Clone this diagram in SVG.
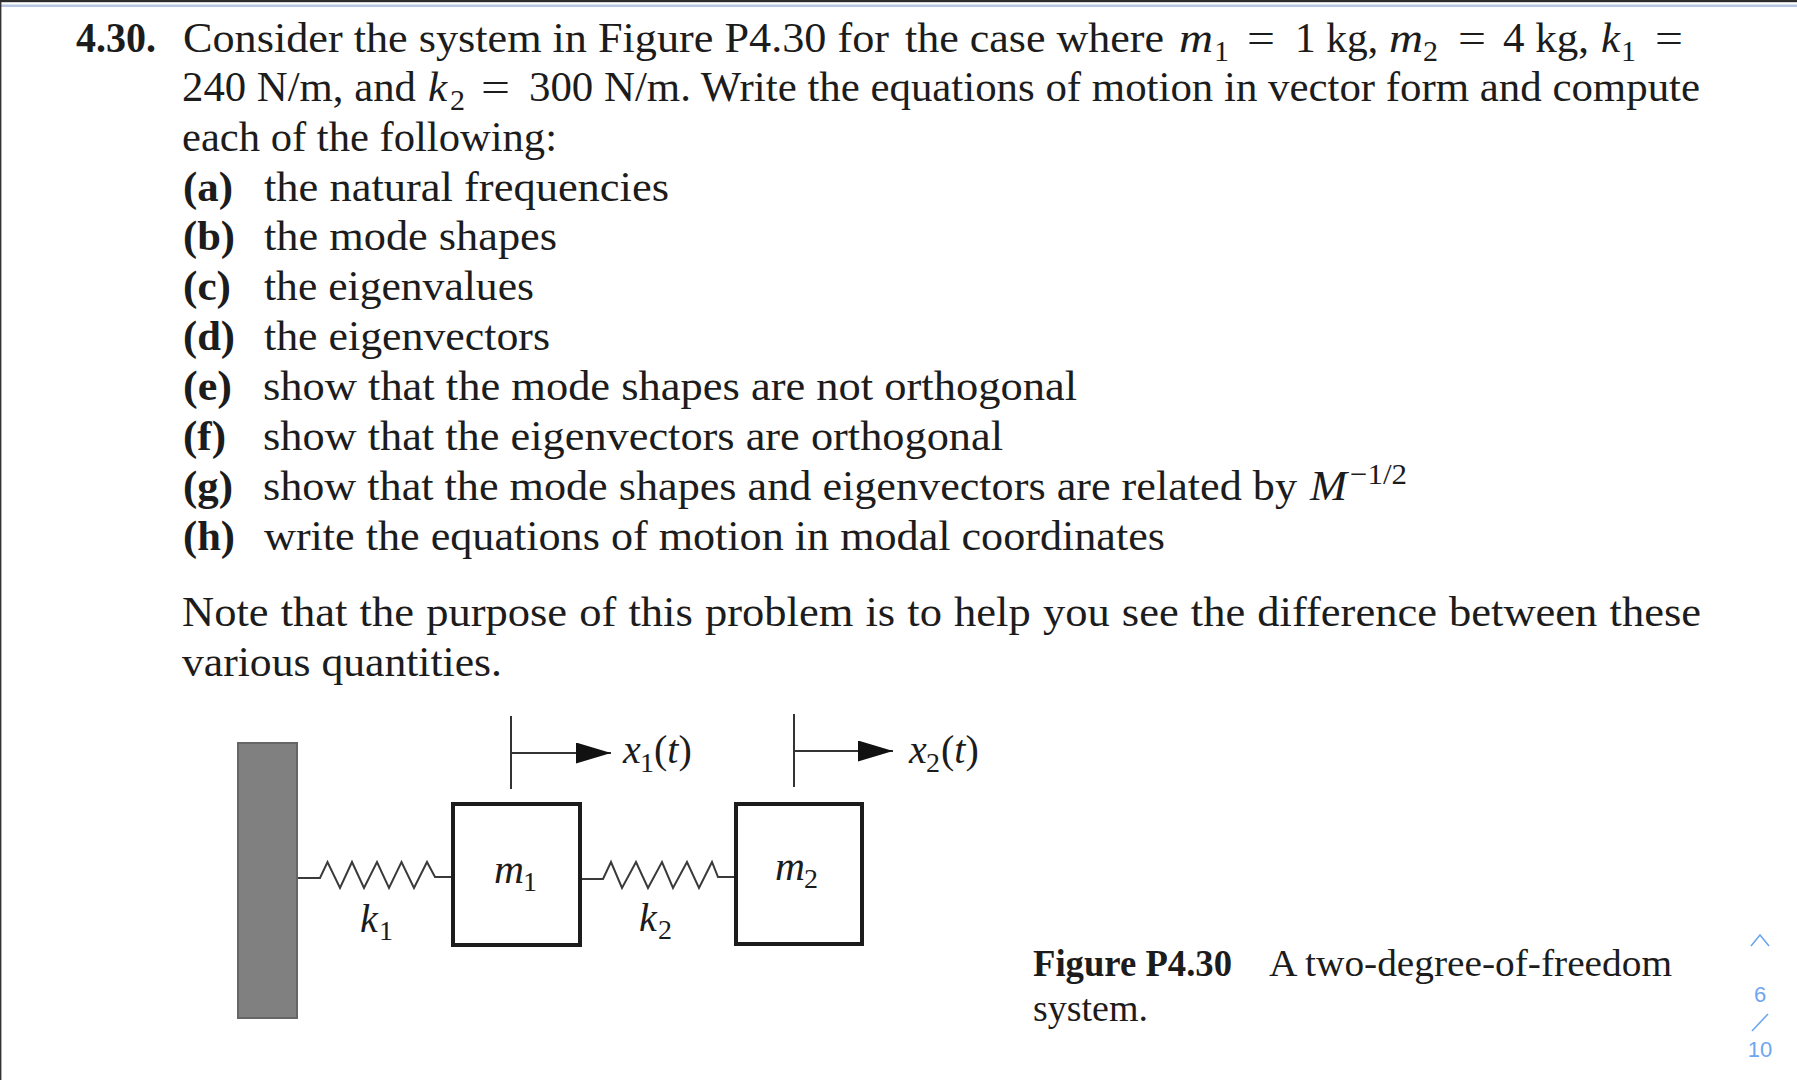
<svg xmlns="http://www.w3.org/2000/svg" width="1797" height="1080" viewBox="0 0 1797 1080">
<style>
text{font-family:"Liberation Serif","Times New Roman",serif;fill:#1c1c1c}
.t{font-size:43px}
.b{font-weight:700}
.i{font-style:italic}
.s{font-size:30px}
.d{font-size:40px}
.ds{font-size:28px}
.c{font-size:38px}
.nav{font-family:"Liberation Sans",Arial,sans-serif;font-size:22px;fill:#6ea6f0}
.ln{fill:none;stroke:#333;stroke-width:2}
.sp{fill:none;stroke:#3a3a3a;stroke-width:2}
.box{fill:#fff;stroke:#1c1c1c;stroke-width:4}
.nv{fill:none;stroke:#6ea6f0;stroke-width:1.6}
</style>
<defs>
<marker id="ah" markerUnits="userSpaceOnUse" markerWidth="36" markerHeight="22" refX="35" refY="10.5" orient="auto"><path d="M0 0L35 10.5L0 21Z" fill="#111"/></marker>
</defs>
<rect width="1797" height="1080" fill="#fff"/>
<rect width="1797" height="2.2" fill="#2c2c2c"/>
<rect y="4.5" width="1797" height="2.5" fill="#b7c6e2"/>
<rect y="2" width="1.4" height="1078" fill="#333"/>

<g id="problem-text">
<text class="t b" x="76" y="52" textLength="80" lengthAdjust="spacingAndGlyphs">4.30.</text>
<text class="t" x="183" y="52" textLength="706" lengthAdjust="spacingAndGlyphs">Consider the system in Figure P4.30 for</text>
<text class="t" x="905" y="52" textLength="259" lengthAdjust="spacingAndGlyphs">the case where</text>
<text class="t i" x="1179" y="52" textLength="34" lengthAdjust="spacingAndGlyphs">m</text>
<text class="s" x="1214" y="61">1</text>
<text class="t" x="1247" y="52" textLength="28" lengthAdjust="spacingAndGlyphs">=</text>
<text class="t" x="1295" y="52" textLength="83" lengthAdjust="spacingAndGlyphs">1 kg,</text>
<text class="t i" x="1389" y="52" textLength="34" lengthAdjust="spacingAndGlyphs">m</text>
<text class="s" x="1423" y="61">2</text>
<text class="t" x="1458" y="52" textLength="28" lengthAdjust="spacingAndGlyphs">=</text>
<text class="t" x="1503" y="52" textLength="86" lengthAdjust="spacingAndGlyphs">4 kg,</text>
<text class="t i" x="1601" y="52">k</text>
<text class="s" x="1621" y="61">1</text>
<text class="t" x="1655" y="52" textLength="28" lengthAdjust="spacingAndGlyphs">=</text>
<text class="t" x="182" y="101" textLength="234" lengthAdjust="spacingAndGlyphs">240 N/m, and</text>
<text class="t i" x="428" y="101">k</text>
<text class="s" x="450" y="110">2</text>
<text class="t" x="481" y="101" textLength="29" lengthAdjust="spacingAndGlyphs">=</text>
<text class="t" x="529" y="101" textLength="1171" lengthAdjust="spacingAndGlyphs">300 N/m. Write the equations of motion in vector form and compute</text>
<text class="t" x="182" y="151" textLength="375" lengthAdjust="spacingAndGlyphs">each of the following:</text>
<text class="t" y="201"><tspan class="b" x="183" textLength="50" lengthAdjust="spacingAndGlyphs">(a)</tspan><tspan x="264" textLength="405" lengthAdjust="spacingAndGlyphs">the natural frequencies</tspan></text>
<text class="t" y="250"><tspan class="b" x="183" textLength="52" lengthAdjust="spacingAndGlyphs">(b)</tspan><tspan x="264" textLength="293" lengthAdjust="spacingAndGlyphs">the mode shapes</tspan></text>
<text class="t" y="300"><tspan class="b" x="183" textLength="48" lengthAdjust="spacingAndGlyphs">(c)</tspan><tspan x="264" textLength="270" lengthAdjust="spacingAndGlyphs">the eigenvalues</tspan></text>
<text class="t" y="350"><tspan class="b" x="183" textLength="52" lengthAdjust="spacingAndGlyphs">(d)</tspan><tspan x="264" textLength="286" lengthAdjust="spacingAndGlyphs">the eigenvectors</tspan></text>
<text class="t" y="400"><tspan class="b" x="183" textLength="49" lengthAdjust="spacingAndGlyphs">(e)</tspan><tspan x="263" textLength="814" lengthAdjust="spacingAndGlyphs">show that the mode shapes are not orthogonal</tspan></text>
<text class="t" y="450"><tspan class="b" x="183" textLength="43" lengthAdjust="spacingAndGlyphs">(f)</tspan><tspan x="263" textLength="740" lengthAdjust="spacingAndGlyphs">show that the eigenvectors are orthogonal</tspan></text>
<text class="t" y="500"><tspan class="b" x="183" textLength="50" lengthAdjust="spacingAndGlyphs">(g)</tspan><tspan x="263" textLength="1034" lengthAdjust="spacingAndGlyphs">show that the mode shapes and eigenvectors are related by</tspan></text>
<text class="t i" x="1310" y="500" textLength="37" lengthAdjust="spacingAndGlyphs">M</text>
<text class="s" x="1350" y="484" textLength="57" lengthAdjust="spacingAndGlyphs">−1/2</text>
<text class="t" y="550"><tspan class="b" x="183" textLength="52" lengthAdjust="spacingAndGlyphs">(h)</tspan><tspan x="264" textLength="901" lengthAdjust="spacingAndGlyphs">write the equations of motion in modal coordinates</tspan></text>
<text class="t" x="182" y="626" textLength="1519" lengthAdjust="spacingAndGlyphs" style="word-spacing:1px">Note that the purpose of this problem is to help you see the difference between these</text>
<text class="t" x="182" y="676" textLength="320" lengthAdjust="spacingAndGlyphs">various quantities.</text>
</g>

<g id="connectors">
<path id="spring-k1" class="sp" d="M297 878H320L327.5 862L340 888L352 862L364 888L377 862L389 888L401.5 862L414 888L427 862L435 877H451"/>
<path id="spring-k2" class="sp" d="M582 879H603L611 862L622 888L636 862L648 888L662 862L673 888L687 862L699 888L712 862L718 877H735"/>
<path class="ln" d="M511 716V789"/>
<path class="ln" marker-end="url(#ah)" d="M511 753H611"/>
<path class="ln" d="M794 714V787"/>
<path class="ln" marker-end="url(#ah)" d="M794 751H893"/>
</g>

<g id="wall"><rect x="238" y="743" width="59" height="275" fill="#808080" stroke="#666" stroke-width="2"/></g>
<g id="mass-m1"><rect class="box" x="453" y="804" width="127" height="141"/>
<text class="d i" x="494" y="883" textLength="30" lengthAdjust="spacingAndGlyphs">m</text><text class="ds" x="523" y="891">1</text></g>
<g id="mass-m2"><rect class="box" x="736" y="804" width="126" height="140"/>
<text class="d i" x="775" y="880" textLength="30" lengthAdjust="spacingAndGlyphs">m</text><text class="ds" x="804" y="888">2</text></g>

<g id="label-k1"><text class="d i" x="360" y="932">k</text><text class="ds" x="379" y="940">1</text></g>
<g id="label-k2"><text class="d i" x="639" y="931">k</text><text class="ds" x="658" y="939">2</text></g>
<g id="label-x1"><text class="d i" x="623" y="763">x</text><text class="ds" x="640" y="772">1</text><text class="d" y="763"><tspan x="654">(</tspan><tspan class="i">t</tspan><tspan>)</tspan></text></g>
<g id="label-x2"><text class="d i" x="909" y="763">x</text><text class="ds" x="926" y="772">2</text><text class="d" y="763"><tspan x="941">(</tspan><tspan class="i">t</tspan><tspan>)</tspan></text></g>

<g id="caption">
<text class="c" y="976"><tspan class="b" x="1033" textLength="199" lengthAdjust="spacingAndGlyphs">Figure P4.30</tspan><tspan x="1269" textLength="403" lengthAdjust="spacingAndGlyphs">A two-degree-of-freedom</tspan></text>
<text class="c" x="1033" y="1021" textLength="115" lengthAdjust="spacingAndGlyphs">system.</text>
</g>

<g id="page-nav">
<path class="nv" d="M1751 946L1760 935L1769 946"/>
<text class="nav" x="1760" y="1002" text-anchor="middle">6</text>
<path class="nv" d="M1752 1031L1768 1014"/>
<text class="nav" x="1760" y="1057" text-anchor="middle">10</text>
</g>
</svg>
